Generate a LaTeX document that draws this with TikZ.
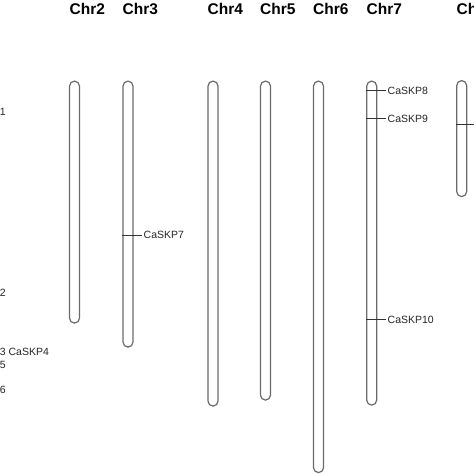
\documentclass[tikz,border=0pt]{standalone}
\usepackage{fontspec}
\setmainfont{Liberation Sans}
\begin{document}
\begin{tikzpicture}[x=1pt,y=-1pt,
  chrom/.style={draw=black!58, line width=1.2pt, rectangle, rounded corners=5pt,
    minimum width=10pt, inner sep=0pt, anchor=north},
  title/.style={font=\fontsize{15.5}{17}\selectfont\bfseries, anchor=base west, inner sep=0pt},
  lab/.style={font=\fontsize{10.5}{12}\selectfont, text=black!85, anchor=west, inner sep=2pt},
  edge/.style={font=\fontsize{10.5}{12}\selectfont, text=black!85, anchor=west, inner sep=0pt},
  marker/.style={draw=black!80, line width=0.9pt}]
\clip (0,0) rectangle (474,474);
\useasboundingbox (0,0) rectangle (474,474);
\fill[white] (0,0) rectangle (474,474);

% chromosomes
\node[chrom, minimum height=242pt] (c2) at (74.5,80.5) {};
\node[chrom, minimum height=266pt] (c3) at (128,80.5) {};
\node[chrom, minimum height=325pt] (c4) at (213,80.5) {};
\node[chrom, minimum height=319pt] (c5) at (265.5,80.5) {};
\node[chrom, minimum height=391.5pt] (c6) at (318.5,80.5) {};
\node[chrom, minimum height=324pt] (c7) at (371.7,80.5) {};
\node[chrom, minimum height=116pt] (c8) at (461.7,80) {};

% titles
\node[title] (t2) at (69.5,14) {Chr2};
\node[title] (t3) at (122.5,14) {Chr3};
\node[title] (t4) at (207.5,14) {Chr4};
\node[title] (t5) at (260,14) {Chr5};
\node[title] (t6) at (313,14) {Chr6};
\node[title] (t7) at (366.5,14) {Chr7};
\node[title] (t8) at (456.5,14) {Chr8};

% gene labels and markers
\node[lab] (k7) at (141.5,235) {CaSKP7};
\draw[marker] (c3.west |- k7) -- (k7.west);
\node[lab] (k8) at (385.5,90.5) {CaSKP8};
\draw[marker] (c7.west |- k8) -- (k8.west);
\node[lab] (k9) at (385.5,118.5) {CaSKP9};
\draw[marker] (c7.west |- k9) -- (k9.west);
\node[lab] (k10) at (385.5,319.5) {CaSKP10};
\draw[marker] (c7.west |- k10) -- (k10.west);
\coordinate (m8) at (474,124);
\draw[marker] (c8.west |- m8) -- (m8);

% partial labels at left edge
\node[edge] (l1) at (-0.3,111.5) {1};
\node[edge] (l2) at (-0.3,293) {2};
\node[edge] (l3) at (-0.3,351.5) {3 CaSKP4};
\node[edge] (l5) at (-0.3,364.5) {5};
\node[edge] (l6) at (-0.3,390) {6};
\end{tikzpicture}
\end{document}
